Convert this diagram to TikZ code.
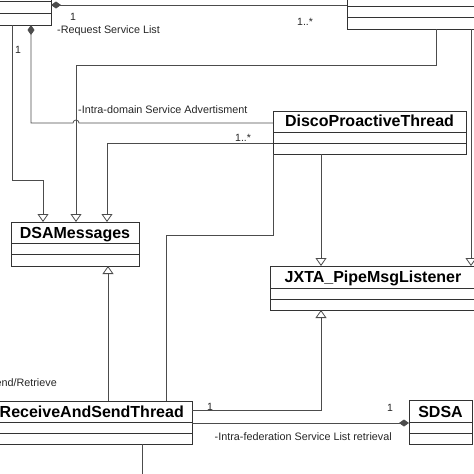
\documentclass[tikz,border=0pt]{standalone}
\usepackage{fontspec}
\setmainfont{Liberation Sans}
\usetikzlibrary{arrows.meta}
\tikzset{
  boxst/.style={draw=black!80, line width=1pt, fill=white, inner sep=0pt, outer sep=0pt},
  sepline/.style={draw=black!80, line width=1pt},
  titlest/.style={font=\bfseries\fontsize{16}{18}\selectfont, text=black, inner sep=0pt, anchor=base},
  conn/.style={draw=black!70, line width=0.8pt},
  gen/.style={conn, -{Triangle[open, length=8pt, width=11pt]}},
  comp/.style={conn, {Diamond[length=10pt, width=7pt]}-},
  lbl/.style={font=\fontsize{10.8}{12}\selectfont, text=black!85, inner sep=0pt, anchor=base west},
  mult/.style={font=\fontsize{10.5}{12}\selectfont, text=black!85, inner sep=0pt, anchor=base west},
}
% name x1 y1 x2 y2 sep1 sep2
\newcommand\umlcls[7]{%
  \node[boxst, minimum width={(#4-#2)*1pt}, minimum height={(#5-#3)*1pt}] (#1) at ({(#2+#4)/2},{(#3+#5)/2}) {};
  \draw[sepline] (#2,#6) -- (#4,#6) (#2,#7) -- (#4,#7);
}
\begin{document}
\begin{tikzpicture}[x=1pt,y=-1pt]
\useasboundingbox (0,0) rectangle (474,474);
\clip (0,0) rectangle (474,474);

% classes
\umlcls{tl}{-10}{-20}{51}{25}{1}{13}
\umlcls{tr}{347}{-20}{490}{29}{6}{17}
\umlcls{dpt}{273}{111}{466}{154}{132}{143}
\umlcls{dsa}{11}{222}{139}{266}{243}{254}
\umlcls{jxta}{270}{266}{476}{310}{288}{299}
\umlcls{rast}{-20}{401}{192}{444}{422}{433}
\umlcls{sdsa}{409}{400}{472}{444}{422}{433}

\node[titlest] (dpt-t) at (369.5,126) {DiscoProactiveThread};
\node[titlest] (dsa-t) at (75,238) {DSAMessages};
\node[titlest] (jxta-t) at (373,282) {JXTA\_PipeMsgListener};
\node[titlest, anchor=base east] (rast-t) at (184,417) {ReceiveAndSendThread};
\node[titlest] (sdsa-t) at (440.5,417) {SDSA};

% connectors
\draw[comp] (tl.east |- 0,5) -- (tr.west |- 0,5);
\draw[gen] (tr.south -| 436,0) |- (76,65) -- (dsa.north -| 76,0);
\draw[gen] (tl.south -| 12,0) |- (43,180) -- (dsa.north -| 43,0);
\draw[comp] (tl.south -| 31,0) -- (31,123) -- (73,123)
  arc[start angle=180, end angle=360, radius=3] -- (dpt.west |- 0,123);
\draw[gen] (dpt.west |- 0,143) -| (dsa.north -| 107,0);
\draw[gen] (dpt.south -| 321,0) -- (jxta.north -| 321,0);
\draw[gen] (tr.south -| 471,0) -- (jxta.north -| 471,0);
\draw[conn] (dpt.south west) |- (166,235) -- (rast.north -| 166,0);
\draw[gen] (rast.north -| 108,0) -- (dsa.south -| 108,0);
\draw[gen] (rast.east |- 0,410) -| (jxta.south -| 321,0);
\draw[comp] (sdsa.west |- 0,423) -- (rast.east |- 0,423);
\draw[conn] (rast.south -| 142,0) -- (142,480);

% labels
\node[mult] (m1) at (70,20) {1};
\node[lbl] (l1) at (57,33) {-Request Service List};
\node[mult] (m2) at (297,25) {1..*};
\node[mult] (m3) at (15,53) {1};
\node[lbl] (l2) at (78,113) {-Intra-domain Service Advertisment};
\node[mult] (m4) at (235,141) {1..*};
\node[lbl, anchor=base east] (l3) at (57,386) {Send/Retrieve};
\node[mult] (m5) at (207,410) {1};
\node[mult] (m6) at (387,411) {1};
\node[lbl, anchor=base east] (l4) at (392,440) {-Intra-federation Service List retrieval};
\end{tikzpicture}
\end{document}
